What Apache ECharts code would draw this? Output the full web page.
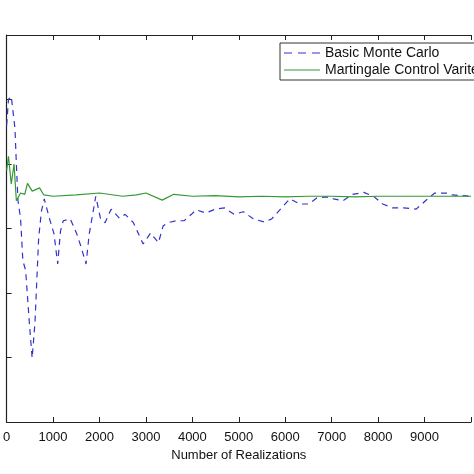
<!DOCTYPE html><html><head><meta charset="utf-8"><script src="https://cdn.jsdelivr.net/npm/echarts@6/dist/echarts.min.js"></script></head><body style="margin:0"><div id="c" style="width:474px;height:474px"></div><script>
const xTicks=[0,1000,2000,3000,4000,5000,6000,7000,8000,9000,10000];
const basicN=[1,40,100,180,210,245,300,350,410,490,550,610,690,750,810,920,1020,1100,1160,1220,1370,1510,1610,1710,1780,1920,2020,2120,2250,2430,2550,2730,2940,3100,3270,3370,3470,3650,3820,3980,4080,4290,4490,4690,4900,5100,5310,5550,5710,5920,6100,6310,6510,6670,6880,7040,7240,7450,7690,7900,8100,8310,8550,8820,9020,9220,9470,9590,10000];
const basicV=[4.6,5.0,5.05,4.55,4.0,3.43,3.16,2.5,2.35,1.53,0.99,1.53,2.85,3.27,3.46,3.16,2.92,2.45,2.96,3.12,3.15,2.92,2.7,2.45,2.92,3.5,3.16,3.09,3.3,3.16,3.22,3.09,2.76,2.93,2.78,3.04,3.09,3.12,3.12,3.22,3.29,3.24,3.3,3.32,3.22,3.26,3.15,3.1,3.15,3.32,3.46,3.38,3.38,3.47,3.49,3.46,3.43,3.53,3.56,3.5,3.38,3.32,3.32,3.3,3.43,3.55,3.55,3.52,3.5];
const mcvN=[1,40,100,160,210,300,390,450,550,710,800,1000,1500,2000,2500,2800,3000,3350,3600,4000,4500,5000,5500,6000,6500,7000,7500,8000,8500,9000,9500,10000];
const mcvV=[3.9,4.12,3.69,4.0,3.43,3.55,3.53,3.7,3.58,3.63,3.52,3.5,3.52,3.55,3.5,3.52,3.55,3.44,3.53,3.5,3.51,3.49,3.5,3.49,3.5,3.5,3.49,3.5,3.5,3.5,3.5,3.5];
const z=(a,b)=>a.map((v,i)=>[v,b[i]]);
const ch=echarts.init(document.getElementById('c'));
const ax={axisLine:{lineStyle:{color:'#222',width:1.2}},axisTick:{inside:true,length:5,lineStyle:{color:'#222'}},splitLine:{show:false}};
ch.setOption({animation:false,
grid:{left:3,top:35,width:490,height:387,show:false},
xAxis:[{type:'value',min:0,max:10000,interval:1000,...ax,axisLabel:{color:'#111',fontSize:13,fontFamily:'Liberation Sans',margin:9,formatter:v=>v===10000?'':v},name:'Number of Realizations',nameLocation:'middle',nameGap:27,nameTextStyle:{color:'#111',fontSize:13,fontFamily:'Liberation Sans'}},
{type:'value',position:'top',min:0,max:10000,interval:1000,...ax,axisLabel:{show:false}}],
yAxis:[{type:'value',min:0,max:6,interval:1,...ax,axisLabel:{show:false}}],
legend:{left:280,top:43,orient:'vertical',itemGap:3,itemWidth:36,itemHeight:10,backgroundColor:'#fff',borderColor:'#333',borderWidth:1,borderRadius:0,padding:[3,4,3,4],textStyle:{fontSize:14,fontFamily:'Liberation Sans',color:'#111'},
data:[{name:'Basic Monte Carlo',icon:'path://M0,4.5h8v1h-8zM14,4.5h8v1h-8zM28,4.5h8v1h-8z'},{name:'Martingale Control Varite',icon:'path://M0,4.5h36v1h-36z'}]},
series:[{name:'Basic Monte Carlo',type:'line',data:z(basicN,basicV),showSymbol:false,lineStyle:{color:'#3333cc',width:1.2,type:[6,5]},itemStyle:{color:'#3333cc'}},
{name:'Martingale Control Varite',type:'line',data:z(mcvN,mcvV),showSymbol:false,lineStyle:{color:'#339933',width:1.2},itemStyle:{color:'#339933'}}]});
</script></body></html>
